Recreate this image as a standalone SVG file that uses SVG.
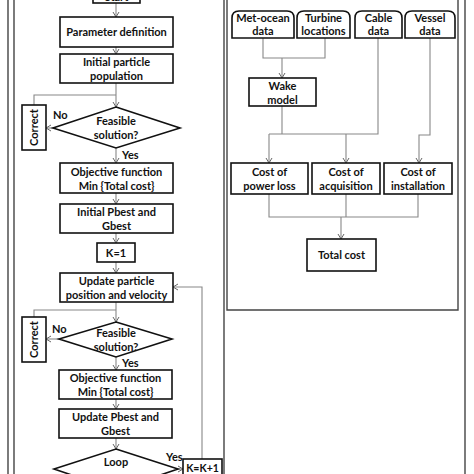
<svg xmlns="http://www.w3.org/2000/svg" width="474" height="474" viewBox="0 0 474 474">
<defs>
<marker id="ah" markerWidth="8" markerHeight="8" refX="6" refY="4" orient="auto" markerUnits="userSpaceOnUse">
<path d="M1,1 L6,4 L1,7" fill="none" stroke="#666" stroke-width="1"/>
</marker>
<style>
.box{fill:#fff;stroke:#111;stroke-width:1.6}
.frame{fill:none;stroke:#444;stroke-width:1.4}
.c{fill:none;stroke:#888;stroke-width:1.1}
.a{fill:none;stroke:#888;stroke-width:1.1;marker-end:url(#ah)}
text{font-family:Lato,"Liberation Sans",Arial,sans-serif;font-weight:bold;font-size:11px;fill:#111;text-anchor:middle}
.lbl{text-anchor:start}
</style>
</defs>
<rect width="474" height="474" fill="#fff"/>
<g id="frames">
<line class="frame" x1="8" y1="0" x2="8" y2="474"/>
<line class="frame" x1="14" y1="0" x2="14" y2="474"/>
<line class="frame" x1="224" y1="0" x2="224" y2="474"/>
<line class="frame" x1="465" y1="0" x2="465" y2="474"/>
<path class="frame" d="M227,-2 V310 H458 V-2"/>
</g>
<g id="connectors">
<line class="a" x1="116" y1="3" x2="116" y2="17"/>
<line class="a" x1="116" y1="47" x2="116" y2="54"/>
<line class="a" x1="116" y1="83" x2="116" y2="107"/>
<polyline class="c" points="116,95 34,95 34,105"/>
<line class="a" x1="53" y1="128" x2="46" y2="128"/>
<line class="a" x1="116" y1="148" x2="116" y2="163"/>
<line class="a" x1="116" y1="193" x2="116" y2="204"/>
<line class="a" x1="116" y1="233" x2="116" y2="243"/>
<line class="a" x1="116" y1="262" x2="116" y2="273"/>
<line class="a" x1="116" y1="302" x2="116" y2="322"/>
<polyline class="c" points="116,310 34,310 34,317"/>
<line class="a" x1="59" y1="339" x2="46" y2="339"/>
<line class="a" x1="116" y1="357" x2="116" y2="370"/>
<line class="a" x1="116" y1="399" x2="116" y2="409"/>
<line class="a" x1="116" y1="438" x2="116" y2="449"/>
<line class="a" x1="178" y1="469" x2="183" y2="469"/>
<polyline class="a" points="202,459 202,287 173,287"/>
<polyline class="c" points="263,38 263,58 325,58 325,38"/>
<line class="a" x1="282" y1="58" x2="282" y2="78"/>
<polyline class="c" points="282,106 282,134"/>
<polyline class="c" points="269,134 378,134 378,38"/>
<line class="a" x1="269" y1="134" x2="269" y2="163"/>
<line class="a" x1="346" y1="134" x2="346" y2="163"/>
<polyline class="a" points="430,38 430,135 419,135 419,163"/>
<polyline class="c" points="269,194 269,217 418,217 418,194"/>
<line class="c" x1="346" y1="194" x2="346" y2="217"/>
<line class="a" x1="341" y1="217" x2="341" y2="239"/>
</g>
<g id="start"><rect class="box" x="93" y="-14" width="47" height="17"/><text x="116.5" y="1">Start</text></g>
<g id="param"><rect class="box" x="60" y="17" width="113" height="30"/><text x="116.5" y="36">Parameter definition</text></g>
<g id="init"><rect class="box" x="60" y="54" width="113" height="29"/><text x="116.5" y="66">Initial particle</text><text x="116.5" y="80">population</text></g>
<g id="feas1"><polygon class="box" points="116,107 180,128 116,148 53,128"/><text x="116" y="125">Feasible</text><text x="116" y="139">solution?</text></g>
<g id="correct1"><rect class="box" x="22" y="105" width="24" height="45"/><text transform="translate(38,127.5) rotate(-90)">Correct</text></g>
<text class="lbl" x="53" y="119">No</text>
<text class="lbl" x="122" y="159">Yes</text>
<g id="obj1"><rect class="box" x="60" y="163" width="113" height="30"/><text x="116.5" y="176">Objective function</text><text x="116.5" y="190">Min {Total cost}</text></g>
<g id="initbest"><rect class="box" x="60" y="204" width="113" height="29"/><text x="116.5" y="216">Initial Pbest and</text><text x="116.5" y="230">Gbest</text></g>
<g id="k1"><rect class="box" x="97" y="243" width="38" height="19"/><text x="116" y="256.5">K=1</text></g>
<g id="update"><rect class="box" x="60" y="273" width="113" height="29"/><text x="116.5" y="285">Update particle</text><text x="116.5" y="299">position and velocity</text></g>
<g id="feas2"><polygon class="box" points="116,322 172,339 116,357 59,339"/><text x="116" y="337">Feasible</text><text x="116" y="351">solution?</text></g>
<g id="correct2"><rect class="box" x="22" y="317" width="24" height="45"/><text transform="translate(38,339.5) rotate(-90)">Correct</text></g>
<text class="lbl" x="52" y="333">No</text>
<text class="lbl" x="122" y="367">Yes</text>
<g id="obj2"><rect class="box" x="59" y="370" width="113" height="29"/><text x="115.5" y="382">Objective function</text><text x="115.5" y="396">Min {Total cost}</text></g>
<g id="updbest"><rect class="box" x="59" y="409" width="113" height="29"/><text x="115.5" y="421">Update Pbest and</text><text x="115.5" y="435">Gbest</text></g>
<g id="loop"><polygon class="box" points="116,449 178,469 116,490 54,469"/><text x="116" y="466">Loop</text></g>
<text class="lbl" x="166" y="461">Yes</text>
<g id="kk1"><rect class="box" x="183" y="459" width="39" height="20"/><text x="202.5" y="472" style="font-size:10.5px">K=K+1</text></g>
<g id="metocean"><path class="box" d="M232,38 V18 Q232,11 239,11 H287 Q294,11 294,18 V38 Z"/><text x="263" y="22">Met-ocean</text><text x="263" y="35">data</text></g>
<g id="turbine"><path class="box" d="M297,38 V18 Q297,11 304,11 H343 Q350,11 350,18 V38 Z"/><text x="323.5" y="22">Turbine</text><text x="323.5" y="35">locations</text></g>
<g id="cable"><path class="box" d="M355,38 V18 Q355,11 362,11 H395 Q402,11 402,18 V38 Z"/><text x="378.5" y="22">Cable</text><text x="378.5" y="35">data</text></g>
<g id="vessel"><path class="box" d="M405,38 V18 Q405,11 412,11 H448 Q455,11 455,18 V38 Z"/><text x="430" y="22">Vessel</text><text x="430" y="35">data</text></g>
<g id="wake"><rect class="box" x="249" y="78" width="67" height="28"/><text x="282.5" y="90">Wake</text><text x="282.5" y="104">model</text></g>
<g id="powerloss"><rect class="box" x="231" y="163" width="77" height="31"/><text x="269.5" y="176">Cost of</text><text x="269.5" y="190">power loss</text></g>
<g id="acq"><rect class="box" x="312" y="163" width="68" height="31"/><text x="346" y="176">Cost of</text><text x="346" y="190">acquisition</text></g>
<g id="inst"><rect class="box" x="384" y="163" width="68" height="31"/><text x="418" y="176">Cost of</text><text x="418" y="190">installation</text></g>
<g id="total"><rect class="box" x="307" y="239" width="69" height="32"/><text x="341.5" y="259">Total cost</text></g>
</svg>
